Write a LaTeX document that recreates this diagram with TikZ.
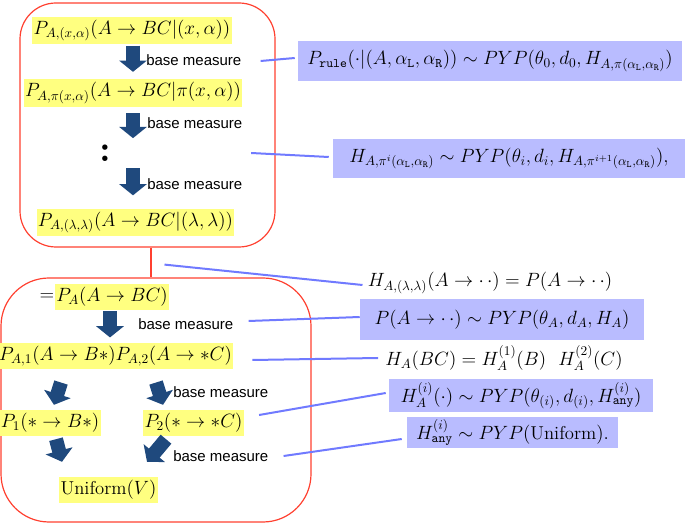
\documentclass[tikz,border=0pt]{standalone}
\usepackage{amsmath}
\usepackage{fontspec}
\setsansfont{Liberation Sans}
\usetikzlibrary{calc,arrows.meta}

\definecolor{hlyellow}{RGB}{255,255,128}
\definecolor{pypblue}{RGB}{185,188,255}
\definecolor{arrowblue}{RGB}{31,73,125}
\definecolor{linkblue}{RGB}{112,122,255}
\definecolor{framered}{RGB}{255,64,48}

\newcommand{\tL}{\mathtt{L}}
\newcommand{\tR}{\mathtt{R}}

\tikzset{
    mathfont/.style={font=\fontsize{14}{17}\selectfont},
    dist/.style={mathfont, fill=hlyellow, inner xsep=1pt, inner ysep=2.5pt},
    pyp/.style={mathfont, fill=pypblue, inner sep=0pt},
    formula/.style={mathfont, inner sep=0pt},
    basetext/.style={font=\sffamily\fontsize{11.25}{13}\selectfont, inner sep=0pt, anchor=west},
    basearrow/.style={arrowblue, line width=10.5pt, -{Triangle[length=8.5pt, width=20.5pt]}},
    link/.style={linkblue, line width=1.5pt},
    frame/.style={draw=framered, line width=0.9pt},
}

\begin{document}
\begin{tikzpicture}[x=0.75pt, y=-0.75pt]
        \useasboundingbox (0,0) rectangle (685,523);

        % the two frames
        \node[frame, rounded corners=27pt, minimum width=191.25pt, minimum height=183pt] (upper) at (147.5,125) {};
        \node[frame, rounded corners=36pt, minimum width=232.5pt, minimum height=183pt] (lower) at (156,400) {};
        \draw[framered, line width=0.9pt] ([xshift=2.6pt]upper.south) -- ([xshift=2.6pt]upper.south |- lower.north);

        % upper chain
        \node[dist] (pxa) at (132,30.5) {$P_{A,(x,\alpha)}(A\rightarrow BC|(x,\alpha))$};
        \node[dist] (ppi) at (133,93) {$P_{A,\pi(x,\alpha)}(A\rightarrow BC|\pi(x,\alpha))$};
        \node[font=\bfseries\fontsize{28}{28}\selectfont, inner sep=0pt] (dots) at (105,153) {:};
        \node[dist] (pll) at (135.5,222.5) {$P_{A,(\lambda,\lambda)}(A\rightarrow BC|(\lambda,\lambda))$};

        \draw[basearrow] ($(pxa.south)+(1,1)$) -- ($(ppi.north)+(0,-7)$);
        \draw[basearrow] ($(ppi.south)+(0,6)$) -- ++(0,25);
        \draw[basearrow] ($(pll.north)+(-2.5,-40)$) -- ($(pll.north)+(-2.5,-13)$);

        \node[basetext] (bm1) at (146,60) {base measure};
        \node[basetext] (bm2) at (147,123) {base measure};
        \node[basetext] (bm3) at (147,184) {base measure};

        % lower chain
        \node[formula] (eqs) at (47,297) {$=$};
        \node[dist] (pa) at (112,297) {$P_A(A\rightarrow BC)$};
        \node[dist] (pab) at (115.5,356) {$P_{A,1}(A\rightarrow B*)P_{A,2}(A\rightarrow *C)$};
        \node[dist] (pone) at (50,423) {$P_1(*\rightarrow B*)$};
        \node[dist] (ptwo) at (193.5,423) {$P_2(*\rightarrow *C)$};
        \node[dist] (unif) at (108.5,490) {$\mathrm{Uniform}(V)$};

        \draw[basearrow] ($(pa.south)+(-2,1)$) -- ($(pab.north)+(-5.5,-5)$);
        \draw[basearrow] ($(pab.south)+(-54.5,13)$) -- ($(pone.north)+(4,-5)$);
        \draw[basearrow] ($(pab.south)+(40.5,13)$) -- ($(ptwo.north)+(-30.5,-5)$);
        \draw[basearrow] ($(pone.south)+(6,3)$) -- ($(unif.north)+(-46.5,-15)$);
        \draw[basearrow] ($(ptwo.south)+(-27.5,3)$) -- ($(unif.north)+(38.5,-15)$);

        \node[basetext] (bm4) at (138,324) {base measure};
        \node[basetext] (bm5) at (173,392) {base measure};
        \node[basetext] (bm6) at (173,456) {base measure};

        % priors on the right
        \node[pyp, minimum width=288pt, minimum height=30pt] (prule) at (490,61)
            {$P_{\mathtt{rule}}(\cdot|(A,\alpha_{\tL},\alpha_{\tR}))\sim PYP(\theta_0,d_0,H_{A,\pi(\alpha_{\tL},\alpha_{\tR})})$};
        \node[pyp, minimum width=264pt, minimum height=29.25pt] (hpi) at (509,158.5)
            {$H_{A,\pi^i(\alpha_{\tL},\alpha_{\tR})}\sim PYP(\theta_i,d_i,H_{A,\pi^{i+1}(\alpha_{\tL},\alpha_{\tR})}),$};
        \node[formula] (hll) at (490,283) {$H_{A,(\lambda,\lambda)}(A\rightarrow\cdot\,\cdot)=P(A\rightarrow\cdot\,\cdot)$};
        \node[pyp, minimum width=213pt, minimum height=30.75pt] (pyph) at (502,319.5)
            {$P(A\rightarrow\cdot\,\cdot)\sim PYP(\theta_A,d_A,H_A)$};
        \node[formula] (hbc) at (504,358) {$H_A(BC)=H_A^{(1)}(B)\ \ H_A^{(2)}(C)$};
        \node[pyp, minimum width=198pt, minimum height=24.75pt] (hi) at (521,395.5)
            {$H_A^{(i)}(\cdot)\sim PYP(\theta_{(i)},d_{(i)},H^{(i)}_{\mathtt{any}})$};
        \node[pyp, minimum width=158.25pt, minimum height=23.25pt] (hany) at (512.5,432.5)
            {$H^{(i)}_{\mathtt{any}}\sim PYP(\mathrm{Uniform}).$};

        \draw[link] ($(bm1.east)+(19,1)$) -- ($(prule.west)+(-3,-3)$);
        \draw[link] ($(dots.east)+(140,0)$) -- ($(hpi.west)+(-4,-1.5)$);
        \draw[link] ($(upper.south)+(17,17)$) -- ($(hll.west)+(-5,2)$);
        \draw[link] ($(bm4.east)+(15,-3)$) -- ($(pyph.west)+(0,-2.5)$);
        \draw[link] ($(pab.east)+(19,4)$) -- ($(hbc.west)+(-7,0)$);
        \draw[link] ($(ptwo.east)+(15,-8)$) -- ($(hi.west)+(-3,-2.5)$);
        \draw[link] ($(bm6.east)+(15,0)$) -- ($(hany.west)+(-5,6.5)$);
    \end{tikzpicture}
\end{document}
